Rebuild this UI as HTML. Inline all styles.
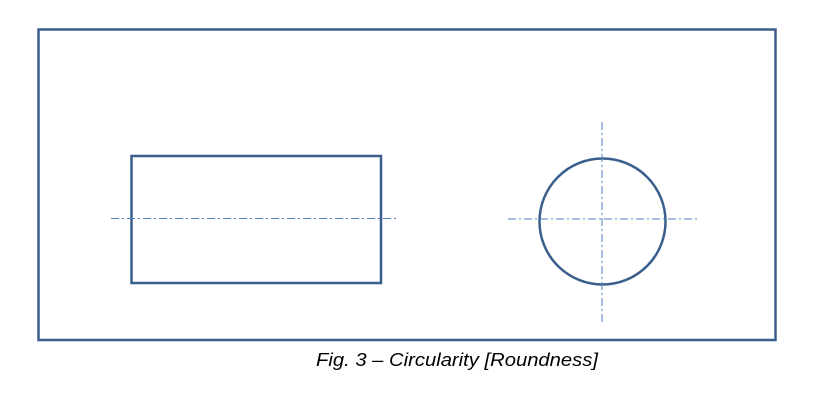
<!DOCTYPE html>
<html><head><meta charset="utf-8"><style>
html,body{margin:0;padding:0;background:#fff;width:815px;height:412px;overflow:hidden}
</style></head><body>
<svg width="815" height="412" viewBox="0 0 815 412" xmlns="http://www.w3.org/2000/svg">
<rect x="38.5" y="29.5" width="737" height="310.5" fill="none" stroke="#3b5f8c" stroke-width="2.5"/>
<rect x="131.5" y="156" width="249.5" height="127" fill="none" stroke="#3b5f8c" stroke-width="2.5"/>
<line x1="111" y1="218.5" x2="398" y2="218.5" stroke="#4a7fc1" stroke-width="1" stroke-dasharray="8,3,2,3"/>
<circle cx="602.5" cy="221.5" r="63" fill="none" stroke="#3b5f8c" stroke-width="2.5"/>
<line x1="508" y1="219" x2="698" y2="219" stroke="#4a7fc1" stroke-width="1" stroke-dasharray="8,3,2,3"/>
<line x1="602" y1="122" x2="602" y2="322" stroke="#4a7fc1" stroke-width="1" stroke-dasharray="8,3,2,3"/>
<text x="316" y="366" textLength="282" lengthAdjust="spacingAndGlyphs" font-family="Liberation Sans, sans-serif" font-style="italic" font-size="18" fill="#000">Fig. 3 – Circularity [Roundness]</text>
</svg>
</body></html>
